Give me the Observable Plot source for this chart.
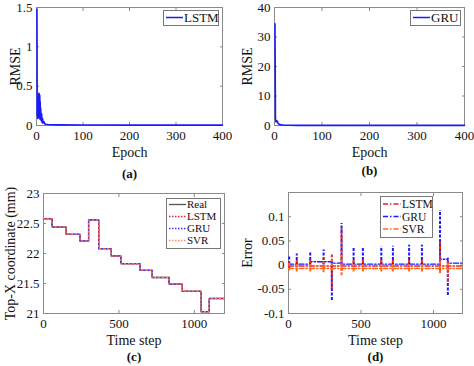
<!DOCTYPE html>
<html><head><meta charset="utf-8">
<script src="https://cdn.jsdelivr.net/npm/d3@7"></script>
<script src="https://cdn.jsdelivr.net/npm/@observablehq/plot@0.6"></script>
<style>
html,body{margin:0;padding:0;background:#fff;}
#wrap{position:relative;width:474px;height:366px;overflow:hidden;font-family:"Liberation Serif","Times New Roman",serif;}
#wrap svg{position:absolute;overflow:visible;}
</style></head><body><div id="wrap"></div>
<script>
// ---------- data ----------
// (a) LSTM training RMSE
const epochA = [1, 1.5, 2, 2.5, 3, 3.5, 4, 4.5, 5, 5.5, 6, 6.5, 7, 7.5, 8, 8.5, 9, 10, 11, 12, 13, 14, 16, 18, 20, 25, 30, 50, 100, 200, 300, 400];
const rmseA  = [1.48, 0.12, 0.28, 0.09, 0.33, 0.1, 0.36, 0.12, 0.41, 0.1, 0.4, 0.14, 0.38, 0.08, 0.3, 0.1, 0.22, 0.06, 0.15, 0.04, 0.09, 0.03, 0.05, 0.02, 0.015, 0.012, 0.01, 0.008, 0.006, 0.005, 0.005, 0.005];
// (b) GRU training RMSE
const epochB = [1, 2, 3, 4, 5, 6, 7, 8, 10, 12, 15, 20, 30, 50, 100, 200, 300, 400];
const rmseB  = [34.5, 2.5, 1.2, 1.6, 1.4, 1.5, 0.9, 0.6, 0.4, 0.3, 0.2, 0.1, 0.08, 0.05, 0.04, 0.03, 0.03, 0.03];
// (c) Top-X coordinate (mm), step changes
const stepT = [0, 57, 150, 242, 299, 366, 449, 513, 640, 720, 832, 920, 1045, 1099, 1200];
const realY = [22.58, 22.44, 22.32, 22.21, 22.56, 22.08, 21.96, 21.83, 21.72, 21.60, 21.49, 21.37, 21.03, 21.25, 21.25];
const lstmY = [22.58, 22.44, 22.32, 22.21, 22.56, 22.08, 21.96, 21.83, 21.72, 21.60, 21.49, 21.37, 21.03, 21.25, 21.25];
const gruY  = [22.58, 22.44, 22.32, 22.21, 22.56, 22.08, 21.96, 21.83, 21.72, 21.60, 21.49, 21.37, 21.03, 21.25, 21.25];
const svrY  = [22.58, 22.44, 22.32, 22.21, 22.56, 22.08, 21.96, 21.83, 21.72, 21.60, 21.49, 21.37, 21.03, 21.25, 21.25];
// (d) prediction error
const errSteps = [5, 57, 150, 242, 299, 366, 449, 513, 640, 720, 832, 920, 1045, 1099];
const gruHi  = [0.017, 0.023, 0.026, 0.031, 0.006, 0.086, 0.036, 0.037, 0.038, 0.039, 0.041, 0.041, 0.113, 0.014];
const gruLo  = [-0.008, 0.0, 0.0, 0.0, -0.073, 0.0, 0.0, 0.0, 0.0, 0.0, 0.0, 0.0, 0.0, -0.063];
const lstmHi = [0.006, 0.012, 0.012, 0.014, 0.021, 0.075, 0.012, 0.012, 0.012, 0.012, 0.012, 0.012, 0.052, 0.01];
const lstmLo = [-0.006, -0.006, -0.006, -0.008, -0.05, -0.012, -0.006, -0.006, -0.006, -0.006, -0.006, -0.006, -0.014, -0.035];
const svrHi  = [0.004, 0.004, 0.004, 0.006, 0.01, 0.02, 0.004, 0.004, 0.004, 0.004, 0.004, 0.004, 0.012, 0.004];
const svrLo  = [-0.012, -0.014, -0.014, -0.016, -0.012, -0.022, -0.014, -0.014, -0.014, -0.014, -0.014, -0.014, -0.018, -0.012];
const gruBaseT = [0, 150, 299, 366, 1045, 1099, 1200];
const gruBase  = [0.002, 0.007, 0.004, 0.002, 0.012, 0.004, 0.004];
const lstmBaseT = [0, 1200];
const lstmBase  = [-0.002, -0.002];
const svrBaseT = [0, 1200];
const svrBase  = [-0.007, -0.007];
// ticks
const ticksEpoch = [0, 100, 200, 300, 400];
const ticksA = [0, 0.5, 1, 1.5];
const ticksB = [0, 10, 20, 30, 40];
const ticksT = [0, 500, 1000];
const ticksC = [21, 21.5, 22, 22.5, 23];
const ticksD = [-0.1, -0.05, 0, 0.05, 0.1];

// ---------- helpers ----------
const FONT = '"Liberation Serif", "Times New Roman", serif';
const AX = "#8a8a8a";
const fmt = d => String(d);

function frameMarks(xT, yT) {
  return [
    Plot.frame({stroke: AX}),
    Plot.axisX(xT, {anchor: "bottom", tickSize: -3, fill: "none", stroke: AX, label: null}),
    Plot.axisX(xT, {anchor: "top", tickSize: -3, fill: "none", stroke: AX, label: null}),
    Plot.axisY(yT, {anchor: "left", tickSize: -3, fill: "none", stroke: AX, label: null}),
    Plot.axisY(yT, {anchor: "right", tickSize: -3, fill: "none", stroke: AX, label: null}),
    Plot.axisX(xT, {anchor: "bottom", tickSize: 0, tickPadding: 5, fontSize: 13, tickFormat: fmt, label: null, fill: "#111"}),
    Plot.axisY(yT, {anchor: "left", tickSize: 0, tickPadding: 4, fontSize: 13, tickFormat: fmt, label: null, fill: "#111"})
  ];
}
function labels(xl, xlDy, yl, ylDx, pl, plDy) {
  return [
    Plot.text([xl], {text: d => d, frameAnchor: "bottom", dy: xlDy, lineAnchor: "middle", fontSize: 14, fill: "#111"}),
    Plot.text([yl], {text: d => d, frameAnchor: "left", dx: ylDx, rotate: -90, textAnchor: "middle", lineAnchor: "middle", fontSize: 14, fill: "#111"}),
    Plot.text([pl], {text: d => d, frameAnchor: "bottom", dy: plDy, lineAnchor: "middle", fontSize: 13, fontWeight: "bold", fill: "#111"})
  ];
}
const wrap = document.getElementById("wrap");
function place(svg, left, top) {
  svg.style.left = left + "px";
  svg.style.top = top + "px";
  wrap.appendChild(svg);
}
function legend(left, top, w, h, items, rowY, lineLen, fontSize) {
  const svg = d3.create("svg").attr("width", w + 1).attr("height", h + 1)
    .style("left", left + "px").style("top", top + "px");
  svg.append("rect").attr("x", 0.5).attr("y", 0.5).attr("width", w).attr("height", h)
    .attr("fill", "#fff").attr("stroke", "#777");
  items.forEach((it, i) => {
    const y = rowY[i];
    svg.append("line").attr("x1", 3).attr("x2", 3 + lineLen).attr("y1", y).attr("y2", y)
      .attr("stroke", it.stroke).attr("stroke-width", it.width || 1.5)
      .attr("stroke-dasharray", it.dash || null);
    svg.append("text").attr("x", 4 + lineLen).attr("y", y).attr("dy", "0.35em")
      .attr("font-family", FONT).attr("font-size", fontSize).attr("fill", "#111").text(it.label);
  });
  wrap.appendChild(svg.node());
}

const BLUE = "#1a1aff", RED = "#e8262a", ORANGE = "#ff6a1a", SALMON = "#ff8a70";
const DASHDOT = "5,2,1.5,2";

// ---------- (a) ----------
place(Plot.plot({
  width: 237, height: 183, marginLeft: 36, marginRight: 15, marginTop: 7, marginBottom: 58,
  style: {fontFamily: FONT, background: "transparent"},
  x: {domain: [0, 400]}, y: {domain: [0, 1.5]},
  marks: [
    ...frameMarks(ticksEpoch, ticksA),
    Plot.line(epochA, {x: epochA, y: rmseA, stroke: BLUE, strokeWidth: 1.6}),
    ...labels("Epoch", 27, "RMSE", -21, "(a)", 48)
  ]
}), 0, 0);
legend(163, 10, 55, 15, [{label: "LSTM", stroke: BLUE}], [7.5], 17, 13);

// ---------- (b) ----------
place(Plot.plot({
  width: 237, height: 183, marginLeft: 37, marginRight: 10, marginTop: 7, marginBottom: 58,
  style: {fontFamily: FONT, background: "transparent"},
  x: {domain: [0, 400]}, y: {domain: [0, 40]},
  marks: [
    ...frameMarks(ticksEpoch, ticksB),
    Plot.line(epochB, {x: epochB, y: rmseB, stroke: BLUE, strokeWidth: 1.6}),
    ...labels("Epoch", 27, "RMSE", -27, "(b)", 45)
  ]
}), 237, 0);
legend(410, 10, 50, 15, [{label: "GRU", stroke: BLUE}], [7.5], 17, 13);

// ---------- (c) ----------
place(Plot.plot({
  width: 237, height: 183, marginLeft: 43, marginRight: 13, marginTop: 10, marginBottom: 53,
  style: {fontFamily: FONT, background: "transparent"},
  x: {domain: [0, 1200]}, y: {domain: [21, 23]},
  marks: [
    ...frameMarks(ticksT, ticksC),
    Plot.line(stepT, {x: stepT, y: realY, curve: "step-after", stroke: "#444", strokeWidth: 1.3}),
    Plot.line(stepT, {x: stepT, y: lstmY, curve: "step-after", stroke: RED, strokeWidth: 1.4, strokeDasharray: "1.5,1.5"}),
    Plot.line(stepT, {x: stepT, y: gruY, curve: "step-after", stroke: "#3a3aff", strokeWidth: 1.2, strokeDasharray: "1.5,3"}),
    Plot.line(stepT, {x: stepT, y: svrY, curve: "step-after", stroke: SALMON, strokeWidth: 1, strokeDasharray: "1,3"}),
    ...labels("Time step", 27, "Top-X coordinate (mm)", -33, "(c)", 43)
  ]
}), 0, 183);
legend(166, 198, 54, 50, [
  {label: "Real", stroke: "#555", width: 1.3},
  {label: "LSTM", stroke: RED, dash: "1.5,1.5"},
  {label: "GRU", stroke: "#3a3aff", dash: "1.5,1.5"},
  {label: "SVR", stroke: SALMON, dash: "1.5,1.5"}
], [6.5, 18.5, 30.5, 42.5], 17, 11);

// ---------- (d) ----------
place(Plot.plot({
  width: 237, height: 183, marginLeft: 51, marginRight: 12, marginTop: 9, marginBottom: 53,
  style: {fontFamily: FONT, background: "transparent"},
  x: {domain: [0, 1200]}, y: {domain: [-0.1, 0.15]},
  marks: [
    ...frameMarks(ticksT, ticksD),
    Plot.line(gruBaseT, {x: gruBaseT, y: gruBase, curve: "step-after", stroke: BLUE, strokeWidth: 1.4, strokeDasharray: DASHDOT}),
    Plot.ruleX(errSteps, {x: errSteps, y1: gruLo, y2: gruHi, stroke: BLUE, strokeWidth: 2, strokeDasharray: "3,1.5"}),
    Plot.line(lstmBaseT, {x: lstmBaseT, y: lstmBase, stroke: RED, strokeWidth: 1.4, strokeDasharray: DASHDOT}),
    Plot.ruleX(errSteps, {x: errSteps, y1: lstmLo, y2: lstmHi, stroke: RED, strokeWidth: 2, strokeDasharray: "3,1.5"}),
    Plot.line(svrBaseT, {x: svrBaseT, y: svrBase, stroke: ORANGE, strokeWidth: 1.4, strokeDasharray: DASHDOT}),
    Plot.ruleX(errSteps, {x: errSteps, y1: svrLo, y2: svrHi, stroke: ORANGE, strokeWidth: 2, strokeDasharray: "3,1.5"}),
    ...labels("Time step", 27, "Error", -41, "(d)", 43)
  ]
}), 237, 183);
legend(380, 196, 52, 41, [
  {label: "LSTM", stroke: RED, dash: DASHDOT},
  {label: "GRU", stroke: BLUE, dash: DASHDOT},
  {label: "SVR", stroke: ORANGE, dash: DASHDOT}
], [8, 20.5, 33], 18, 11.5);
</script>
</body></html>
